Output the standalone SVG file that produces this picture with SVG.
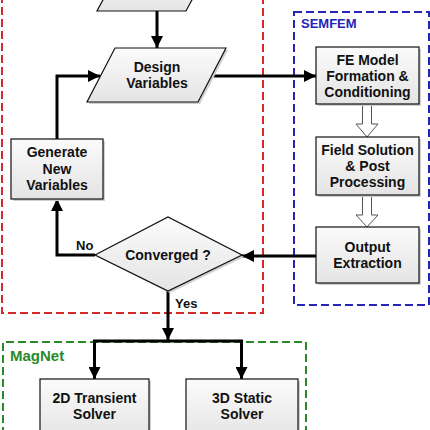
<svg xmlns="http://www.w3.org/2000/svg" width="430" height="430" viewBox="0 0 430 430">
<style>
.box{fill:url(#g);stroke:#111;stroke-width:1.2}
.sh{fill:#d0d0d0}
.t{font-family:"Liberation Sans",Arial,sans-serif;font-weight:bold;font-size:14px;fill:#111;text-anchor:middle}
.lb{font-family:"Liberation Sans",Arial,sans-serif;font-weight:bold;font-size:13px;fill:#111}
.c{fill:none;stroke:#000;stroke-width:3}
.ha{fill:#fff;stroke:#555;stroke-width:1}
</style>
<defs>
<linearGradient id="g" x1="0" y1="0" x2="0" y2="1">
<stop offset="0" stop-color="#fbfbfb"/>
<stop offset="1" stop-color="#e4e4e4"/>
</linearGradient>
<marker id="ah" viewBox="0 0 10 10" refX="10" refY="5" markerWidth="4" markerHeight="4" orient="auto" markerUnits="strokeWidth">
<path d="M0,0 L10,5 L0,10 z" fill="#000"/>
</marker>
</defs>
<rect width="430" height="430" fill="#fff"/>
<g id="regions">
<path d="M2,-5 L2,313 L263,313 L263,-5" fill="none" stroke="#d42a2a" stroke-width="2" stroke-dasharray="8,4"/>
<rect x="294" y="12" width="135" height="293" fill="none" stroke="#2424b8" stroke-width="2" stroke-dasharray="8,4"/>
<text x="301" y="28" font-family="Liberation Sans,Arial,sans-serif" font-weight="bold" font-size="13px" fill="#2424b8">SEMFEM</text>
<path d="M3,435 L3,342 L306,342 L306,435" fill="none" stroke="#2a8a2a" stroke-width="2" stroke-dasharray="8,4"/>
<text x="10" y="361" font-family="Liberation Sans,Arial,sans-serif" font-weight="bold" font-size="15px" fill="#2a8a2a">MagNet</text>
</g>
<g id="connectors">
<line class="c" x1="157" y1="11" x2="157" y2="48" marker-end="url(#ah)"/>
<polyline class="c" points="57,139 57,76 100,76" marker-end="url(#ah)"/>
<line class="c" x1="210" y1="76" x2="316" y2="76" marker-end="url(#ah)"/>
<line class="c" x1="316" y1="256" x2="242" y2="256" marker-end="url(#ah)"/>
<polyline class="c" points="95,255 57,255 57,199" marker-end="url(#ah)"/>
<line class="c" x1="168" y1="291" x2="168" y2="340" marker-end="url(#ah)"/>
<line class="c" x1="93" y1="341" x2="243" y2="341"/>
<line class="c" x1="94.5" y1="341" x2="94.5" y2="379" marker-end="url(#ah)"/>
<line class="c" x1="241.5" y1="341" x2="241.5" y2="379" marker-end="url(#ah)"/>
<path class="ha" d="M362.5,104 L371.5,104 L371.5,124 L378,124 L367,137 L356,124 L362.5,124 z"/>
<path class="ha" d="M362.5,195 L371.5,195 L371.5,215 L378,215 L367,227 L356,215 L362.5,215 z"/>
</g>
<g id="input">
<polygon class="box" points="97,11 186,11 208,-30 119,-30"/>
</g>
<g id="design">
<polygon class="sh" points="89,104 200,104 228,50 117,50"/>
<polygon class="box" points="87,102 198,102 226,48 115,48"/>
<text class="t" x="157" y="72">Design</text>
<text class="t" x="157" y="88">Variables</text>
</g>
<g id="generate">
<rect class="sh" x="13" y="141" width="92" height="60"/>
<rect class="box" x="11" y="139" width="92" height="60"/>
<text class="t" x="57" y="157">Generate</text>
<text class="t" x="57" y="174">New</text>
<text class="t" x="57" y="190">Variables</text>
</g>
<g id="converged">
<polygon class="sh" points="97,257 170,219 244,257 170,293"/>
<polygon class="box" points="95,255 168,217 242,255 168,291"/>
<text class="t" x="168" y="260">Converged ?</text>
<text class="lb" x="76" y="250">No</text>
<text class="lb" x="175" y="308">Yes</text>
</g>
<g id="fe">
<rect class="sh" x="318" y="49" width="103" height="57"/>
<rect class="box" x="316" y="47" width="103" height="57"/>
<text class="t" x="367.5" y="65">FE Model</text>
<text class="t" x="367.5" y="81">Formation &amp;</text>
<text class="t" x="367.5" y="97">Conditioning</text>
</g>
<g id="field">
<rect class="sh" x="318" y="139" width="103" height="58"/>
<rect class="box" x="316" y="137" width="103" height="58"/>
<text class="t" x="367.5" y="155">Field Solution</text>
<text class="t" x="367.5" y="171">&amp; Post</text>
<text class="t" x="367.5" y="187">Processing</text>
</g>
<g id="output">
<rect class="sh" x="318" y="229" width="103" height="56"/>
<rect class="box" x="316" y="227" width="103" height="56"/>
<text class="t" x="367.5" y="252">Output</text>
<text class="t" x="367.5" y="268">Extraction</text>
</g>
<g id="transient">
<rect class="sh" x="42" y="381" width="109" height="60"/>
<rect class="box" x="40" y="379" width="109" height="60"/>
<text class="t" x="94.5" y="403">2D Transient</text>
<text class="t" x="94.5" y="419">Solver</text>
</g>
<g id="static">
<rect class="sh" x="188" y="381" width="112" height="60"/>
<rect class="box" x="186" y="379" width="112" height="60"/>
<text class="t" x="242" y="403">3D Static</text>
<text class="t" x="242" y="419">Solver</text>
</g>
</svg>
